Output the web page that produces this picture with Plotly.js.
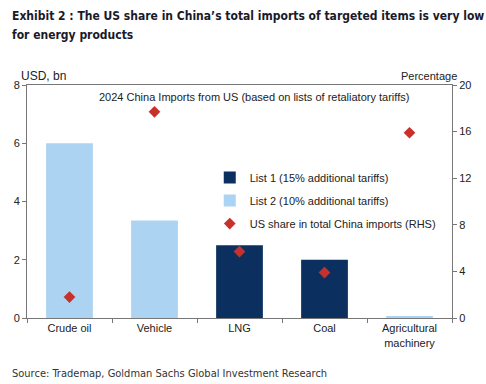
<!DOCTYPE html>
<html>
<head>
<meta charset="utf-8">
<script src="https://cdn.plot.ly/plotly-3.0.1.min.js"></script>
<style>html,body{margin:0;padding:0;background:#fff;}#chart{width:486px;height:384px;}</style>
</head>
<body>
<div id="chart"></div>
<script>
const categories = ["Crude oil", "Vehicle", "LNG", "Coal", "Agricultural<br>machinery"];
const list1Values = [null, null, 2.5, 2.0, null];
const list2Values = [6.0, 3.35, null, null, 0.07];
const usShare = [1.8, 17.7, 5.7, 3.9, 15.9];
const leftTicks = [0, 2, 4, 6, 8];
const rightTicks = [0, 4, 8, 12, 16, 20];

const axFont = {family: "Liberation Sans, Arial, sans-serif", size: 11, color: "#222"};
const condensed = "DejaVu Sans Condensed, sans-serif";
const titleFont = {family: condensed, size: 12, color: "#1a1a2a"};

const traces = [
  {type: "bar", x: categories, y: list1Values, name: "List 1 (15% additional tariffs)",
   legendgroup: "a", marker: {color: "#0b3060"}},
  {type: "bar", x: categories, y: list2Values, name: "List 2 (10% additional tariffs)",
   legendgroup: "b", marker: {color: "#acd3f1"}},
  {type: "scatter", mode: "markers", x: categories, y: usShare, yaxis: "y2",
   legendgroup: "c", name: "US share in total China imports (RHS)",
   marker: {symbol: "diamond", color: "#c8312b", size: 9}}
];

const layout = {
  width: 486, height: 384,
  margin: {l: 27, r: 34, t: 85, b: 66},
  paper_bgcolor: "#fff", plot_bgcolor: "#fff",
  barmode: "relative", bargap: 0.45,
  showlegend: true,
  font: axFont,
  legend: {x: 0.43, y: 0.665, xanchor: "left", yanchor: "top", bgcolor: "rgba(0,0,0,0)",
           font: axFont, tracegroupgap: 4, itemwidth: 30, traceorder: "grouped"},
  xaxis: {showline: true, linecolor: "#777", linewidth: 1, mirror: true,
          ticks: "outside", tickson: "boundaries", ticklen: 4, tickcolor: "#777",
          tickfont: axFont, showgrid: false},
  yaxis: {range: [0, 8], tickvals: leftTicks, showline: true, linecolor: "#777", linewidth: 1,
          ticks: "outside", ticklen: 4, tickcolor: "#777", tickfont: axFont, showgrid: false,
          zeroline: false},
  yaxis2: {range: [0, 20], tickvals: rightTicks, overlaying: "y", side: "right",
           showline: true, linecolor: "#777", linewidth: 1, ticks: "outside", ticklen: 4,
           tickcolor: "#777", tickfont: axFont, showgrid: false, zeroline: false},
  annotations: [
    {text: "<b>Exhibit 2 : The US share in China\u2019s total imports of targeted items is very low</b>",
     xref: "paper", yref: "paper", x: -0.04, y: 1.296, xanchor: "left", yanchor: "middle", showarrow: false,
     align: "left", font: titleFont},
    {text: "<b>for energy products</b>",
     xref: "paper", yref: "paper", x: -0.04, y: 1.2146, xanchor: "left", yanchor: "middle", showarrow: false,
     align: "left", font: titleFont},
    {text: "2024 China Imports from US (based on lists of retaliatory tariffs)",
     xref: "paper", yref: "paper", x: 0.534, y: 0.95, xanchor: "center", yanchor: "middle", showarrow: false,
     font: axFont},
    {text: "USD, bn", xref: "paper", yref: "paper", x: -0.02, y: 1.04, xanchor: "left", yanchor: "middle",
     showarrow: false, font: {family: axFont.family, size: 12, color: "#222"}},
    {text: "Percentage", xref: "paper", yref: "paper", x: 1.0165, y: 1.04, xanchor: "right", yanchor: "middle",
     showarrow: false, font: axFont},
    {text: "Source: Trademap, Goldman Sachs Global Investment Research",
     xref: "paper", yref: "paper", x: -0.04, y: -0.2, xanchor: "left", yanchor: "top", showarrow: false,
     font: {family: condensed, size: 11, color: "#333"}}
  ]
};

Plotly.newPlot("chart", traces, layout, {displayModeBar: false, staticPlot: true});
</script>
</body>
</html>
